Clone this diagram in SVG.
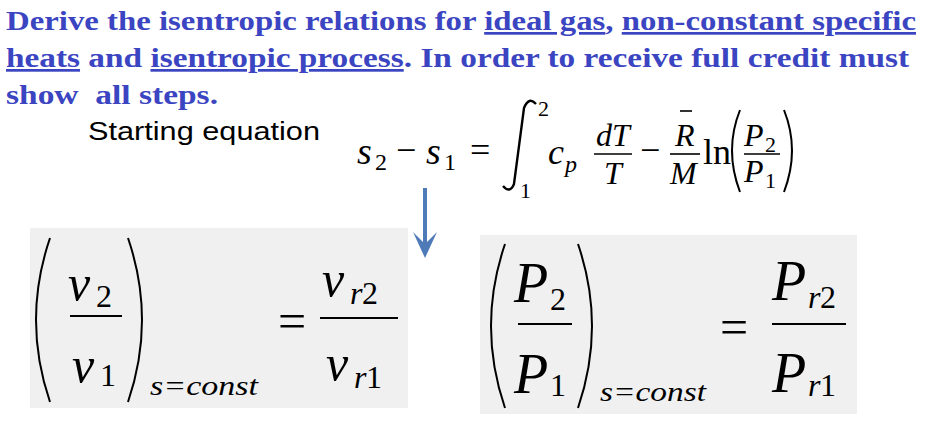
<svg xmlns="http://www.w3.org/2000/svg" width="942" height="428" viewBox="0 0 942 428">
<style>
.h{font-family:"Liberation Serif",serif;font-weight:bold;font-size:27px;fill:#3b45c2}
.u{text-decoration:underline}
.m{font-family:"Liberation Serif",serif;font-style:italic;fill:#000}
.r{font-family:"Liberation Serif",serif;fill:#000}
.box{fill:#f0f0f0}
.p{fill:none;stroke:#000;stroke-width:2}
</style>
<rect width="942" height="428" fill="#fff"/>
<g id="title">
<text class="h" x="6" y="30" textLength="910" lengthAdjust="spacingAndGlyphs">Derive the isentropic relations for <tspan class="u">ideal gas</tspan>, <tspan class="u">non-constant specific</tspan></text>
<text class="h" x="6" y="67" textLength="903" lengthAdjust="spacingAndGlyphs"><tspan class="u">heats</tspan> and <tspan class="u">isentropic process</tspan>.  In order to receive full credit must</text>
<text class="h" x="6" y="104" textLength="212" lengthAdjust="spacingAndGlyphs" xml:space="preserve">show  all steps.</text>
</g>
<g id="start">
<text x="88" y="140" font-family="Liberation Sans,Arial,sans-serif" font-size="26" textLength="232" lengthAdjust="spacingAndGlyphs">Starting equation</text>
<text class="m" x="357" y="164" font-size="38">s</text><text class="r" x="375" y="170" font-size="24">2</text>
<text class="r" x="396" y="162" font-size="36">−</text>
<text class="m" x="426" y="164" font-size="38">s</text><text class="r" x="444" y="170" font-size="24">1</text>
<text class="r" x="470" y="162" font-size="36">=</text>
<path d="M536 104 Q529 96 524 108 L514 184 Q510 194 503 186" fill="none" stroke="#000" stroke-width="2.4"/>
<text class="r" x="538" y="116" font-size="22">2</text>
<text class="r" x="520" y="198" font-size="22">1</text>
<text class="m" x="548" y="164" font-size="36">c</text><text class="m" x="565" y="172" font-size="24">p</text>
<text class="m" x="596" y="146" font-size="32">dT</text>
<line x1="594" y1="154" x2="632" y2="154" stroke="#000" stroke-width="1.6"/>
<text class="m" x="604" y="184" font-size="32">T</text>
<text class="r" x="640" y="162" font-size="36">−</text>
<text class="m" x="675" y="146" font-size="32">R</text>
<line x1="680" y1="111" x2="692" y2="111" stroke="#000" stroke-width="1.6"/>
<line x1="670" y1="154" x2="700" y2="154" stroke="#000" stroke-width="1.6"/>
<text class="m" x="670" y="184" font-size="32">M</text>
<text class="r" x="703" y="164" font-size="36">ln</text>
<path d="M740 110 Q724 150 740 192" class="p"/>
<text class="m" x="744" y="146" font-size="32">P</text><text class="r" x="765" y="152" font-size="22">2</text>
<line x1="744" y1="154" x2="780" y2="154" stroke="#000" stroke-width="1.6"/>
<text class="m" x="744" y="182" font-size="32">P</text><text class="r" x="765" y="188" font-size="22">1</text>
<path d="M784 110 Q800 150 784 192" class="p"/>
</g>
<g id="connectors">
<line x1="425" y1="188" x2="425" y2="250" stroke="#4f7ab8" stroke-width="4"/>
<path d="M413 232 L425 258 L437 232 L425 244 Z" fill="#4f7ab8"/>
</g>
<g id="left">
<rect class="box" x="30" y="228" width="378" height="180"/>
<path d="M50 238 Q22 320 50 402" class="p"/>
<path d="M128 238 Q156 320 128 402" class="p"/>
<text class="m" x="68" y="300" font-size="50">v</text><text class="r" x="96" y="307" font-size="32">2</text>
<line x1="70" y1="316" x2="122" y2="316" stroke="#000" stroke-width="2"/>
<text class="m" x="72" y="382" font-size="50">v</text><text class="r" x="100" y="386" font-size="32">1</text>
<text class="m" x="150" y="395" font-size="28" textLength="108" lengthAdjust="spacingAndGlyphs">s=const</text>
<text class="r" x="278" y="338" font-size="50">=</text>
<text class="m" x="322" y="296" font-size="50">v</text><text class="m" x="350" y="304" font-size="32">r</text><text class="r" x="362" y="304" font-size="32">2</text>
<line x1="320" y1="318" x2="398" y2="318" stroke="#000" stroke-width="2"/>
<text class="m" x="326" y="380" font-size="50">v</text><text class="m" x="354" y="388" font-size="32">r</text><text class="r" x="366" y="388" font-size="32">1</text>
</g>
<g id="right">
<rect class="box" x="480" y="235" width="377" height="179"/>
<path d="M505 244 Q477 326 505 408" class="p"/>
<path d="M578 244 Q606 326 578 408" class="p"/>
<text class="m" x="514" y="302" font-size="56">P</text><text class="r" x="550" y="310" font-size="32">2</text>
<line x1="518" y1="324" x2="572" y2="324" stroke="#000" stroke-width="2"/>
<text class="m" x="514" y="393" font-size="56">P</text><text class="r" x="550" y="396" font-size="32">1</text>
<text class="m" x="600" y="401" font-size="28" textLength="106" lengthAdjust="spacingAndGlyphs">s=const</text>
<text class="r" x="720" y="344" font-size="50">=</text>
<text class="m" x="772" y="300" font-size="56">P</text><text class="m" x="808" y="308" font-size="32">r</text><text class="r" x="820" y="308" font-size="32">2</text>
<line x1="772" y1="324" x2="846" y2="324" stroke="#000" stroke-width="2"/>
<text class="m" x="772" y="392" font-size="56">P</text><text class="m" x="808" y="396" font-size="32">r</text><text class="r" x="820" y="396" font-size="32">1</text>
</g>
</svg>
